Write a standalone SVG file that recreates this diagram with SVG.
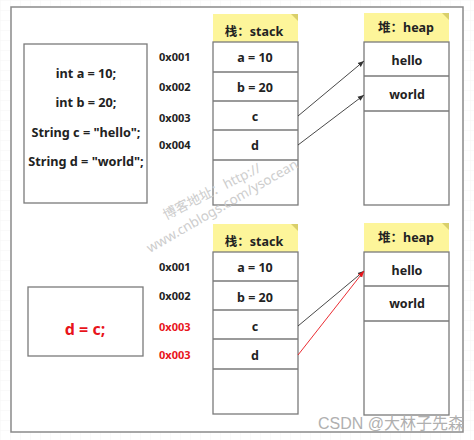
<svg xmlns="http://www.w3.org/2000/svg" width="474" height="440" viewBox="0 0 474 440">
<defs>
<style>
.t{font-family:"Noto Sans","Noto Sans CJK SC",sans-serif;font-weight:bold;fill:#222;text-anchor:middle;dominant-baseline:central}
.code{font-size:12.7px}
.addr{font-size:11px;text-anchor:start}
.cell{font-size:12.5px}
.box{fill:#fff;stroke:#7a7a7a;stroke-width:1.3}
.hdr{fill:#fdf59a;stroke:none}
.ear{fill:#d9cf6a}
.red{fill:#e8141b}
.wm{font-family:"Noto Sans","Noto Sans CJK SC",sans-serif;fill:#cdcdcd;font-size:13.5px}
.conn{stroke:#333;stroke-width:0.9;fill:none}
</style>
<pattern id="grid" width="10" height="10" patternUnits="userSpaceOnUse">
<path d="M10 0H0V10" fill="none" stroke="#f5f5f5" stroke-width="1"/>
</pattern>
<marker id="ah" viewBox="0 0 10 10" refX="10" refY="5" markerWidth="7" markerHeight="7" orient="auto">
<path d="M0 1L10 5L0 9z" fill="#333"/>
</marker>
<marker id="ahr" viewBox="0 0 10 10" refX="10" refY="5" markerWidth="7" markerHeight="7" orient="auto">
<path d="M0 1L10 5L0 9z" fill="#e8141b"/>
</marker>
</defs>
<rect width="474" height="440" fill="#fff"/>
<rect width="474" height="440" fill="url(#grid)"/>
<rect x="11" y="7" width="452" height="425" fill="#fff" stroke="#8a8a8a" stroke-width="1.5"/>

<!-- top section -->
<g id="code1">
<rect class="box" x="24" y="44" width="123" height="159"/>
<text class="t code" x="86" y="73">int a = 10;</text>
<text class="t code" x="86" y="102">int b = 20;</text>
<text class="t code" x="86" y="132">String c = "hello";</text>
<text class="t code" x="86" y="161">String d = "world";</text>
</g>
<g id="addr1">
<text class="t addr" x="159" y="56">0x001</text>
<text class="t addr" x="159" y="86">0x002</text>
<text class="t addr" x="159" y="117">0x003</text>
<text class="t addr" x="159" y="144">0x004</text>
</g>
<g id="stack1">
<rect class="hdr" x="213" y="14" width="85" height="28"/>
<path class="ear" d="M291 14L298 14L298 21z"/>
<text class="t cell" x="254" y="31">栈：stack</text>
<rect class="box" x="213" y="42" width="85" height="163"/>
<path d="M213 72H298M213 101H298M213 130H298M213 160H298" stroke="#7a7a7a" stroke-width="1.3"/>
<text class="t cell" x="255" y="57">a = 10</text>
<text class="t cell" x="255" y="87">b = 20</text>
<text class="t cell" x="255" y="116">c</text>
<text class="t cell" x="255" y="145">d</text>
</g>
<g id="heap1">
<rect class="hdr" x="364" y="13" width="85" height="29"/>
<path class="ear" d="M442 13L449 13L449 20z"/>
<text class="t cell" x="406" y="27">堆：heap</text>
<rect class="box" x="364" y="42" width="85" height="163"/>
<path d="M364 76H449M364 111H449" stroke="#7a7a7a" stroke-width="1.3"/>
<text class="t cell" x="407" y="60">hello</text>
<text class="t cell" x="407" y="94">world</text>
</g>

<!-- bottom section -->
<g id="code2">
<rect class="box" x="28" y="287" width="115" height="69"/>
<text class="t red" x="85" y="329" style="font-size:16px">d = c;</text>
</g>
<g id="addr2">
<text class="t addr" x="159" y="266">0x001</text>
<text class="t addr" x="159" y="295">0x002</text>
<text class="t addr red" x="159" y="326">0x003</text>
<text class="t addr red" x="159" y="354">0x003</text>
</g>
<g id="stack2">
<rect class="hdr" x="213" y="224" width="85" height="28"/>
<path class="ear" d="M291 224L298 224L298 231z"/>
<text class="t cell" x="254" y="241">栈：stack</text>
<rect class="box" x="213" y="252" width="85" height="162"/>
<path d="M213 281H298M213 310H298M213 339H298M213 369H298" stroke="#7a7a7a" stroke-width="1.3"/>
<text class="t cell" x="255" y="267">a = 10</text>
<text class="t cell" x="255" y="297">b = 20</text>
<text class="t cell" x="255" y="326">c</text>
<text class="t cell" x="255" y="355">d</text>
</g>
<g id="heap2">
<rect class="hdr" x="364" y="223" width="85" height="29"/>
<path class="ear" d="M442 223L449 223L449 230z"/>
<text class="t cell" x="406" y="237">堆：heap</text>
<rect class="box" x="364" y="252" width="85" height="163"/>
<path d="M364 286H449M364 321H449" stroke="#7a7a7a" stroke-width="1.3"/>
<text class="t cell" x="407" y="270">hello</text>
<text class="t cell" x="407" y="303">world</text>
</g>

<g id="connectors">
<line class="conn" x1="298" y1="116" x2="364" y2="61" marker-end="url(#ah)"/>
<line class="conn" x1="298" y1="145" x2="364" y2="95" marker-end="url(#ah)"/>
<line class="conn" x1="298" y1="326" x2="364" y2="271" marker-end="url(#ah)"/>
<line class="conn" x1="298" y1="355" x2="364" y2="271" style="stroke:#e8141b" marker-end="url(#ahr)"/>
</g>

<g id="watermark">
<text class="wm" transform="translate(166,220) rotate(-27)">博客地址：http://</text>
<text class="wm" transform="translate(150,253) rotate(-30)">www.cnblogs.com/ysocean</text>
<text x="318" y="429" style="font-family:'Liberation Sans','Noto Sans CJK SC',sans-serif;font-size:16px;fill:#b0b0b0">CSDN @大林子先森</text>
</g>
</svg>
